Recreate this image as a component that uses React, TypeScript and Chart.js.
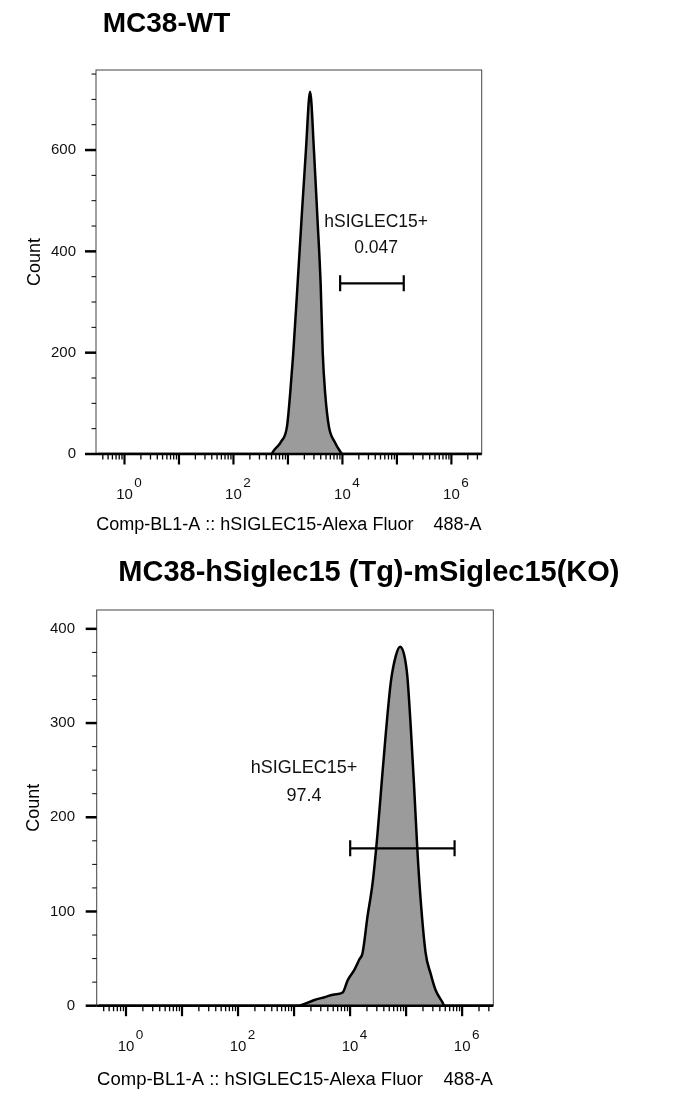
import { useEffect, useRef } from 'react';
import { Chart, registerables } from 'chart.js';

Chart.register(...registerables);

const FONT = "'Liberation Sans', Arial, Helvetica, sans-serif";

// fluorescence axis range (log), shared by both panels
const xMin = 0.33;
const xMax = 3.6e6;
const labelledDecades = [0, 2, 4, 6];

// MC38-WT histogram
const wtFluor = [0.33, 490, 560, 745, 960, 1100, 1245, 1500, 1780, 2130, 2550, 3010, 3480, 3990, 4350, 4820, 5650, 7180, 9230, 10000, 3.6e6];
const wtCount = [0, 0, 8, 24, 54, 120, 195, 334, 465, 597, 715, 597, 465, 334, 200, 120, 54, 24, 4, 0, 0];
const wtGateX = [9080, 133600];
const wtGateY = 337;
const wtGateLabel = ['hSIGLEC15+', '0.047'];
const wtLabelX = 41600;
const wtLabelY = [458, 407];

// MC38-hSiglec15 (Tg)-mSiglec15(KO) histogram
const tgFluor = [0.33, 1170, 2310, 3480, 5240, 7380, 9060, 11900, 14600, 16700, 20500, 25200, 30900, 35400, 43400, 53200, 65300, 78000, 91800, 105000, 121000, 138000, 159000, 182000, 223000, 274000, 334000, 442000, 485000, 3.6e6];
const tgCount = [0, 0, 6, 9, 12, 14, 27, 38, 49, 56, 95, 130, 183, 226, 289, 343, 371, 381, 373, 350, 296, 236, 165, 112, 56, 34, 17, 4, 0, 0];
const tgGateX = [10040, 733000];
const tgGateY = 167;
const tgGateLabel = ['hSIGLEC15+', '97.4'];
const tgLabelX = 1500;
const tgLabelY = [252, 223];

const xTitle = 'Comp-BL1-A :: hSIGLEC15-Alexa Fluor    488-A';

function logTicks() {
  const out: { value: number }[] = [];
  for (let e = -1; e <= 6; e++) {
    for (let m = 1; m <= 9; m++) {
      const v = m * Math.pow(10, e);
      if (v >= xMin && v <= xMax) out.push({ value: v });
    }
  }
  return out;
}

function HistPanel(props: any) {
  const ref = useRef<HTMLCanvasElement>(null);
  const p = props;

  useEffect(() => {
    if (!ref.current) return;

    const decor = {
      id: 'decor',
      afterDatasetsDraw(chart: any) {
        const { ctx, chartArea: a, scales } = chart;
        const x = scales.x;
        const y = scales.y;
        ctx.save();

        // frame
        ctx.lineWidth = 1;
        ctx.strokeStyle = '#444';
        ctx.strokeRect(a.left, a.top, a.right - a.left, a.bottom - a.top);
        ctx.strokeStyle = '#000';

        // y tick marks
        y.ticks.forEach((t: any) => {
          const py = y.getPixelForValue(t.value);
          const major = t.value % p.yMajor === 0;
          ctx.lineWidth = major ? 2.5 : 1;
          ctx.beginPath();
          ctx.moveTo(a.left - (major ? 11 : 4.5), py);
          ctx.lineTo(a.left, py);
          ctx.stroke();
        });

        // baseline
        ctx.lineWidth = 2.5;
        ctx.beginPath();
        ctx.moveTo(a.left, a.bottom);
        ctx.lineTo(a.right, a.bottom);
        ctx.stroke();

        // x tick marks
        x.ticks.forEach((t: any) => {
          const px = x.getPixelForValue(t.value);
          const e = Math.log10(t.value);
          const major = Math.abs(e - Math.round(e)) < 1e-6;
          ctx.lineWidth = major ? 2.2 : 1.3;
          ctx.beginPath();
          ctx.moveTo(px, a.bottom);
          ctx.lineTo(px, a.bottom + (major ? 10.5 : 5.5));
          ctx.stroke();
        });

        // x tick labels 10^n
        ctx.fillStyle = '#111';
        ctx.textBaseline = 'middle';
        ctx.textAlign = 'center';
        labelledDecades.forEach((d) => {
          const px = x.getPixelForValue(Math.pow(10, d));
          ctx.font = `15px ${FONT}`;
          ctx.fillText('10', px, a.bottom + 41);
          ctx.font = `13.5px ${FONT}`;
          ctx.fillText(String(d), px + 13.5, a.bottom + 29.5);
        });

        // gate label
        ctx.font = `${p.labelSize}px ${FONT}`;
        const lx = x.getPixelForValue(p.labelX);
        p.gateLabel.forEach((s: string, i: number) => {
          ctx.fillText(s, lx, y.getPixelForValue(p.labelY[i]));
        });

        // panel title
        ctx.fillStyle = '#000';
        ctx.textAlign = 'left';
        ctx.font = `bold ${p.titleSize}px ${FONT}`;
        ctx.fillText(p.title, p.titleX, p.titleY);
        ctx.restore();
      },
    };

    const chart = new Chart(ref.current, {
      type: 'line',
      data: {
        datasets: [
          {
            label: 'gate',
            data: p.gateX.map((v: number) => ({ x: v, y: p.gateY })),
            borderColor: '#000',
            borderWidth: 2.2,
            pointStyle: 'line',
            pointRotation: 90,
            pointRadius: 8,
            pointBorderWidth: 2.2,
            pointBorderColor: '#000',
            fill: false,
            order: 0,
          },
          {
            label: 'Count',
            data: p.fluor.map((v: number, i: number) => ({ x: v, y: p.counts[i] })),
            borderColor: '#000',
            borderWidth: 2.5,
            backgroundColor: '#9b9b9b',
            fill: 'origin',
            pointRadius: 0,
            cubicInterpolationMode: 'monotone',
            order: 1,
          },
        ],
      } as any,
      options: {
        animation: false,
        responsive: true,
        maintainAspectRatio: false,
        events: [],
        layout: {
          padding: { left: 0, top: p.plotTop, right: p.width - p.plotRight, bottom: p.padBottom },
        },
        plugins: { legend: { display: false }, tooltip: { enabled: false }, title: { display: false } },
        scales: {
          x: {
            type: 'logarithmic',
            min: xMin,
            max: xMax,
            afterBuildTicks: (s: any) => {
              s.ticks = logTicks();
            },
            afterFit: (s: any) => {
              s.height = p.height - p.padBottom - p.plotBottom;
            },
            grid: { display: false, drawTicks: false },
            border: { display: false },
            ticks: { display: false, autoSkip: false },
            title: {
              display: true,
              text: xTitle,
              color: '#000',
              font: { family: FONT, size: p.xTitleSize },
              padding: { top: 0, bottom: 0 },
            },
          },
          y: {
            type: 'linear',
            min: 0,
            max: p.yMax,
            afterFit: (s: any) => {
              s.width = p.plotLeft;
            },
            grid: { display: false, drawTicks: false },
            border: { display: false },
            ticks: {
              stepSize: p.yStep,
              includeBounds: false,
              autoSkip: false,
              padding: p.yTickPad,
              color: '#111',
              font: { family: FONT, size: 15 },
              callback: (v: any) => (Number(v) % p.yMajor === 0 ? String(v) : ''),
            },
            title: {
              display: true,
              text: 'Count',
              color: '#000',
              font: { family: FONT, size: 18 },
              padding: { top: p.yTitlePad, bottom: 0 },
            },
          },
        },
      } as any,
      plugins: [decor],
    });

    return () => chart.destroy();
  }, []);

  return (
    <div style={{ position: 'relative', width: p.width, height: p.height }}>
      <canvas ref={ref} />
    </div>
  );
}

export default function App() {
  return (
    <div style={{ width: 670 }}>
      <HistPanel
        width={670}
        height={540}
        plotLeft={88}
        plotRight={473.7}
        plotTop={62}
        plotBottom={446}
        padBottom={12.2}
        yTitlePad={16}
        yTickPad={20}
        xTitleSize={18}
        labelSize={17.5}
        title="MC38-WT"
        titleX={94.7}
        titleY={16.5}
        titleSize={28}
        fluor={wtFluor}
        counts={wtCount}
        yMax={758}
        yStep={50}
        yMajor={200}
        gateX={wtGateX}
        gateY={wtGateY}
        gateLabel={wtGateLabel}
        labelX={wtLabelX}
        labelY={wtLabelY}
      />
      <HistPanel
        width={670}
        height={545}
        plotLeft={88.7}
        plotRight={485.3}
        plotTop={62}
        plotBottom={457.7}
        padBottom={2}
        yTitlePad={15}
        yTickPad={21.7}
        xTitleSize={18.5}
        labelSize={18}
        title="MC38-hSiglec15 (Tg)-mSiglec15(KO)"
        titleX={110.3}
        titleY={24.5}
        titleSize={29}
        fluor={tgFluor}
        counts={tgCount}
        yMax={420}
        yStep={25}
        yMajor={100}
        gateX={tgGateX}
        gateY={tgGateY}
        gateLabel={tgGateLabel}
        labelX={tgLabelX}
        labelY={tgLabelY}
      />
    </div>
  );
}
